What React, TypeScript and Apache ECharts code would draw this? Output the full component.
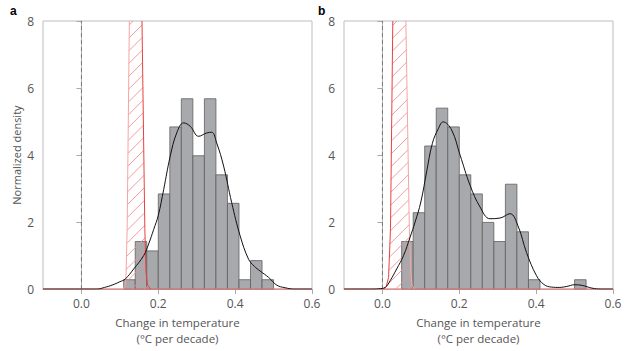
import React, { useEffect, useRef } from "react";
import * as echarts from "echarts";

// ---------- data ----------
const binWidth = 0.03;
const binStartsA = [0.11, 0.14, 0.17, 0.2, 0.23, 0.26, 0.29, 0.32, 0.35, 0.38, 0.41, 0.44, 0.47];
const densityA = [0.28, 1.42, 1.14, 2.84, 4.84, 5.68, 3.98, 5.68, 3.41, 2.56, 0.28, 0.85, 0.28];
const binStartsB = [0.05, 0.08, 0.11, 0.14, 0.17, 0.2, 0.23, 0.26, 0.29, 0.32, 0.35, 0.38, 0.5];
const densityB = [1.42, 2.28, 4.27, 5.4, 4.84, 3.41, 2.84, 1.99, 1.42, 3.13, 1.71, 0.28, 0.28];

const kdeA = [
  [-0.1, 0], [0.04, 0], [0.06, 0.05], [0.08, 0.12], [0.1, 0.22], [0.114, 0.3], [0.136, 0.6],
  [0.162, 1.0], [0.175, 1.35], [0.188, 1.78], [0.2, 2.2], [0.214, 2.97], [0.231, 3.96],
  [0.248, 4.66], [0.266, 4.96], [0.283, 4.86], [0.305, 4.56], [0.326, 4.66], [0.339, 4.68],
  [0.352, 4.36], [0.37, 3.67], [0.391, 2.58], [0.413, 1.59], [0.435, 0.89], [0.45, 0.68],
  [0.465, 0.54], [0.487, 0.35], [0.508, 0.12], [0.53, 0.04], [0.555, 0], [0.6, 0],
];
const kdeB = [
  [-0.1, 0], [-0.03, 0], [-0.01, 0.01], [0.007, 0.05], [0.02, 0.25], [0.037, 0.6], [0.055, 1.0],
  [0.072, 1.55], [0.085, 2.0], [0.1, 2.6], [0.115, 3.5], [0.13, 4.35], [0.146, 4.8], [0.158, 4.99],
  [0.18, 4.75], [0.202, 4.0], [0.228, 3.1], [0.254, 2.45], [0.28, 2.1], [0.306, 2.12],
  [0.332, 2.25], [0.353, 1.88], [0.375, 1.09], [0.401, 0.4], [0.42, 0.14], [0.44, 0.06],
  [0.46, 0.05], [0.48, 0.08], [0.5, 0.13], [0.52, 0.11], [0.545, 0.03], [0.57, 0], [0.6, 0],
];

// observed-trend density outline (left / right flanks, bottom to top)
const obsLeftA = [[0.108, 0], [0.113, 0.1], [0.116, 0.4], [0.119, 1.8], [0.1247, 8]];
const obsRightA = [[0.18, 0], [0.172, 0.12], [0.168, 0.5], [0.165, 1.8], [0.1576, 8]];
const obsLeftB = [[0.003, 0], [0.01, 0.08], [0.016, 0.35], [0.021, 1.8], [0.027, 8]];
const obsRightB = [[0.083, 0], [0.077, 0.12], [0.074, 0.5], [0.07, 1.8], [0.061, 8]];

const xTicks = [0, 0.2, 0.4, 0.6];
const zeroLine = [[0, 0], [0, 8]];
const baseLine = [[-0.1, 0], [0.6, 0]];

const FONT = "Open Sans";

function histData(starts: number[], vals: number[]) {
  return starts.map((s, i) => [s, s + binWidth, vals[i]]);
}

function xAtY(pts: number[][], y: number) {
  if (y >= pts[0][1]) return pts[0][0];
  for (let i = 0; i < pts.length - 1; i++) {
    const a = pts[i], b = pts[i + 1];
    if (y <= a[1] && y >= b[1]) {
      const t = a[1] === b[1] ? 0 : (a[1] - y) / (a[1] - b[1]);
      return a[0] + t * (b[0] - a[0]);
    }
  }
  return pts[pts.length - 1][0];
}

function solve(pts: number[][], c: number, top: number, bottom: number) {
  let lo = top, hi = bottom;
  for (let i = 0; i < 40; i++) {
    const m = (lo + hi) / 2;
    if (xAtY(pts, m) + m < c) lo = m; else hi = m;
  }
  return (lo + hi) / 2;
}

function makeObsRender(left: number[][], right: number[][], leftColor: string, rightColor: string) {
  return (params: any, api: any) => {
    const L = left.map((p) => api.coord(p));
    const R = right.map((p) => api.coord(p));
    const bottom = L[0][1];
    const top = L[L.length - 1][1];
    const gLb = xAtY(L, bottom) + bottom;
    const gLt = xAtY(L, top) + top;
    const gRb = xAtY(R, bottom) + bottom;
    const gRt = xAtY(R, top) + top;
    const children: any[] = [];
    const spacing = 12.7;
    for (let c = gRb - 6; c > gLt; c -= spacing) {
      let x1, y1, x2, y2;
      if (c > gLb) {
        x1 = c - bottom; y1 = bottom;
      } else {
        y1 = solve(L, c, top, bottom); x1 = c - y1;
      }
      if (c > gRt) {
        y2 = solve(R, c, top, bottom); x2 = c - y2;
      } else {
        y2 = top; x2 = c - top;
      }
      if (x2 <= x1) continue;
      children.push({
        type: "line",
        shape: { x1, y1, x2, y2 },
        style: { stroke: "#f39090", lineWidth: 0.9 },
      });
    }
    children.push({ type: "polyline", shape: { points: L }, style: { stroke: leftColor, lineWidth: 1, fill: null } });
    children.push({ type: "polyline", shape: { points: R }, style: { stroke: rightColor, lineWidth: 1, fill: null } });
    return { type: "group", children };
  };
}

function renderBar(params: any, api: any) {
  const p0 = api.coord([api.value(0), api.value(2)]);
  const p1 = api.coord([api.value(1), 0]);
  return {
    type: "rect",
    shape: { x: p0[0], y: p0[1], width: p1[0] - p0[0], height: p1[1] - p0[1] },
    style: { fill: "#a8a9ac", stroke: "#5f5f5f", lineWidth: 0.8 },
  };
}

function xAxisFor(gridIndex: number) {
  return {
    type: "value",
    gridIndex,
    min: -0.1,
    max: 0.6,
    name: "Change in temperature\n(°C per decade)",
    nameLocation: "middle",
    nameGap: 22,
    nameTextStyle: { fontFamily: FONT, fontSize: 11.5, color: "#555", lineHeight: 16 },
    axisLine: { show: true, lineStyle: { color: "#b5b5b5" } },
    axisTick: { show: true, customValues: xTicks, length: 5, lineStyle: { color: "#aaa" } },
    axisLabel: {
      customValues: xTicks,
      formatter: (v: number) => v.toFixed(1),
      fontFamily: FONT,
      fontSize: 12,
      color: "#555",
      margin: 8,
    },
    splitLine: { show: false },
  };
}

function yAxisFor(gridIndex: number, withName: boolean) {
  return {
    type: "value",
    gridIndex,
    min: 0,
    max: 8,
    interval: 2,
    name: withName ? "Normalized density" : "",
    nameLocation: "middle",
    nameGap: 21,
    nameTextStyle: { fontFamily: FONT, fontSize: 11, color: "#555" },
    axisLine: { show: true, lineStyle: { color: "#b5b5b5" } },
    axisTick: { show: true, length: 5, lineStyle: { color: "#aaa" } },
    axisLabel: { fontFamily: FONT, fontSize: 12, color: "#555", margin: 9 },
    splitLine: { show: false },
  };
}

function panelSeries(idx: number, starts: number[], vals: number[], kde: number[][], left: number[][], right: number[][], lc: string, rc: string) {
  return [
    {
      type: "custom",
      xAxisIndex: idx,
      yAxisIndex: idx,
      renderItem: renderBar,
      data: histData(starts, vals),
      z: 2,
    },
    {
      type: "line",
      xAxisIndex: idx,
      yAxisIndex: idx,
      data: zeroLine,
      symbol: "none",
      lineStyle: { color: "#777", width: 1, type: [4, 3] },
      z: 1,
    },
    {
      type: "line",
      xAxisIndex: idx,
      yAxisIndex: idx,
      data: baseLine,
      symbol: "none",
      lineStyle: { color: "#f07a7a", width: 1.2 },
      z: 3,
    },
    {
      type: "custom",
      xAxisIndex: idx,
      yAxisIndex: idx,
      renderItem: makeObsRender(left, right, lc, rc),
      data: [[0]],
      z: 4,
    },
    {
      type: "line",
      xAxisIndex: idx,
      yAxisIndex: idx,
      data: kde,
      smooth: 0.4,
      symbol: "none",
      lineStyle: { color: "#111", width: 1 },
      z: 5,
    },
  ];
}

export default function App() {
  const ref = useRef<HTMLDivElement>(null);
  useEffect(() => {
    if (!ref.current) return;
    const chart = echarts.init(ref.current, null, { renderer: "svg" });
    chart.setOption({
      animation: false,
      backgroundColor: "#fff",
      title: [
        { text: "a", left: 10, top: 5, padding: 0, textStyle: { fontFamily: "Liberation Sans", fontSize: 12, fontWeight: "bold", color: "#000" } },
        { text: "b", left: 318, top: 5, padding: 0, textStyle: { fontFamily: "Liberation Sans", fontSize: 12, fontWeight: "bold", color: "#000" } },
      ],
      grid: [
        { left: 43, top: 21, width: 269, height: 269, show: true, borderColor: "#bdbdbd", borderWidth: 1 },
        { left: 344, top: 21, width: 269, height: 269, show: true, borderColor: "#bdbdbd", borderWidth: 1 },
      ],
      xAxis: [xAxisFor(0), xAxisFor(1)],
      yAxis: [yAxisFor(0, true), yAxisFor(1, false)],
      series: [
        ...panelSeries(0, binStartsA, densityA, kdeA, obsLeftA, obsRightA, "#f5a5a5", "#e8413f"),
        ...panelSeries(1, binStartsB, densityB, kdeB, obsLeftB, obsRightB, "#e8413f", "#f5a5a5"),
      ],
    });
    return () => chart.dispose();
  }, []);
  return <div ref={ref} style={{ position: "absolute", left: 0, top: 0, width: 640, height: 351 }} />;
}
